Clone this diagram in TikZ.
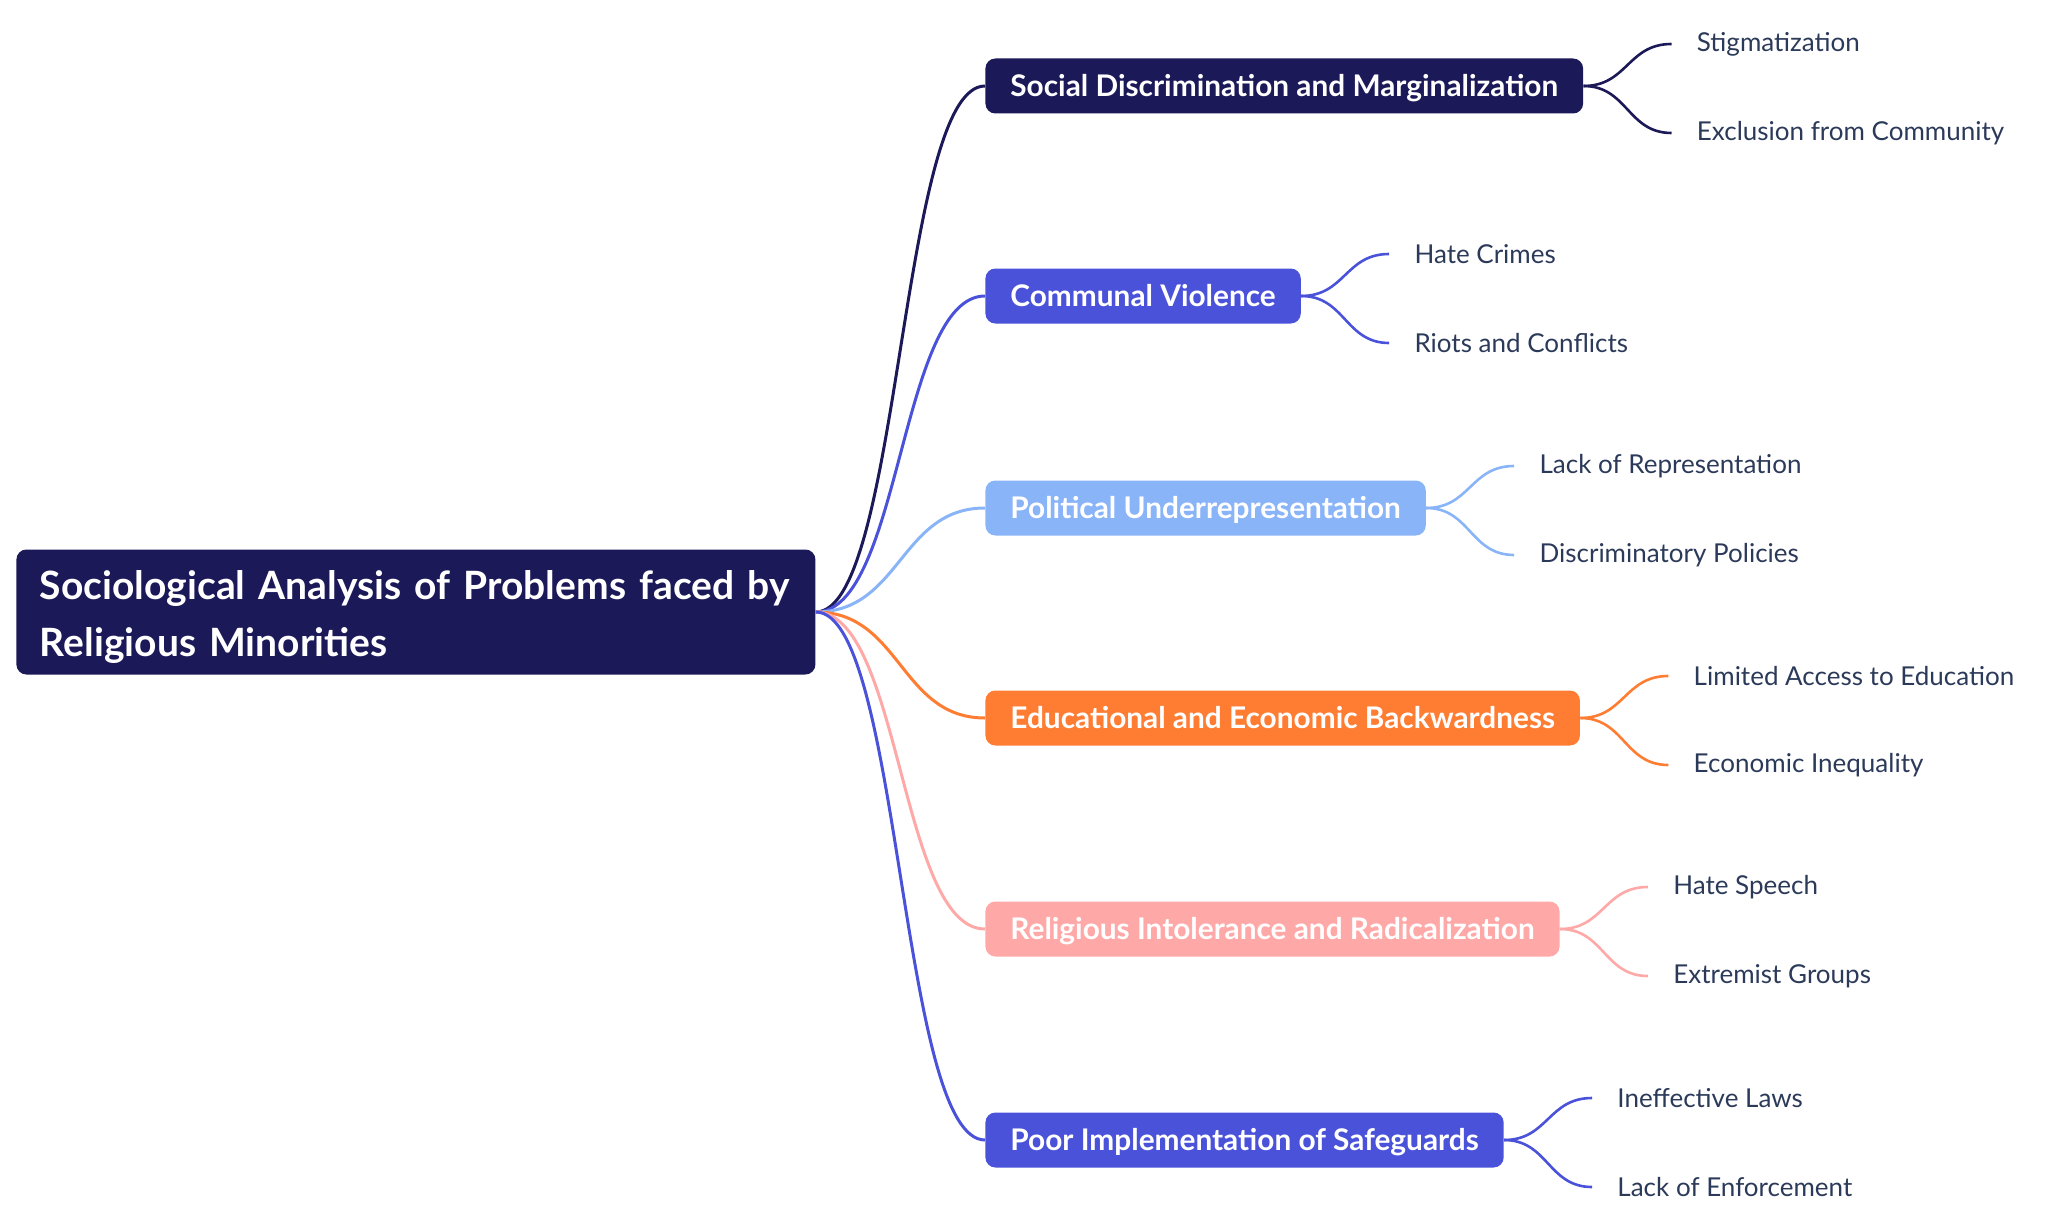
\documentclass[tikz,border=0pt]{standalone}
\usepackage{fontspec}
\setmainfont{Lato}
\usetikzlibrary{calc}
\definecolor{navy}{RGB}{27,25,88}
\definecolor{indigo}{RGB}{74,82,217}
\definecolor{sky}{RGB}{138,180,248}
\definecolor{orng}{RGB}{255,125,51}
\definecolor{pinky}{RGB}{255,168,168}
\definecolor{leaftext}{RGB}{44,58,90}
\tikzset{
  rootbox/.style={fill=navy, text=white, rounded corners=5pt, inner xsep=11.75pt, inner ysep=0pt,
    minimum height=62.5pt, text width=376pt, align=left, anchor=west,
    font=\bfseries\fontsize{19.5}{28.5}\selectfont},
  topic/.style={fill=#1, text=white, rounded corners=5pt, inner xsep=12.5pt, inner ysep=0pt,
    minimum height=27.5pt, text height=12pt, text depth=1.6pt, anchor=west,
    font=\bfseries\fontsize{14.9}{17}\selectfont},
  leaf/.style={text=leaftext, inner xsep=12.5pt, inner ysep=2pt, anchor=west,
    font=\fontsize{13}{16}\selectfont},
  rootlink/.style={draw=#1, line width=1.5pt},
  leaflink/.style={draw=#1, line width=1.3pt},
}
\begin{document}
\begin{tikzpicture}[x=0.5pt,y=-0.5pt]
\useasboundingbox (0,0) rectangle (2048,1214);
\node[rootbox] (root) at (16,612) {\rule{0pt}{20pt}Sociological Analysis of Problems faced by\\Religious Minorities};

\node[topic=navy]   (t1) at (985,86)   {Social Discrimination and Marginalization};
\node[topic=indigo] (t2) at (985,296)  {Communal Violence};
\node[topic=sky]    (t3) at (985,508)  {Political Underrepresentation};
\node[topic=orng]   (t4) at (985,718)  {Educational and Economic Backwardness};
\node[topic=pinky]  (t5) at (985,929)  {Religious Intolerance and Radicalization};
\node[topic=indigo] (t6) at (985,1140) {Poor Implementation of Safeguards};

\foreach \t/\c in {t1/navy,t2/indigo,t3/sky,t4/orng,t5/pinky,t6/indigo}{
  \draw[rootlink=\c] (root.east) .. controls +(85,0) and +(-85,0) .. (\t.west);
}

\node[leaf] (l1a) at ($(t1.east)+(88,-42)$) {Stigmatization};
\node[leaf] (l1b) at ($(t1.east)+(88,47)$)  {Exclusion from Community};
\node[leaf] (l2a) at ($(t2.east)+(88,-42)$) {Hate Crimes};
\node[leaf] (l2b) at ($(t2.east)+(88,47)$)  {Riots and Conflicts};
\node[leaf] (l3a) at ($(t3.east)+(88,-42)$) {Lack of Representation};
\node[leaf] (l3b) at ($(t3.east)+(88,47)$)  {Discriminatory Policies};
\node[leaf] (l4a) at ($(t4.east)+(88,-42)$) {Limited Access to Education};
\node[leaf] (l4b) at ($(t4.east)+(88,47)$)  {Economic Inequality};
\node[leaf] (l5a) at ($(t5.east)+(88,-42)$) {Hate Speech};
\node[leaf] (l5b) at ($(t5.east)+(88,47)$)  {Extremist Groups};
\node[leaf] (l6a) at ($(t6.east)+(88,-42)$) {Ineffective Laws};
\node[leaf] (l6b) at ($(t6.east)+(88,47)$)  {Lack of Enforcement};

\foreach \t/\c in {1/navy,2/indigo,3/sky,4/orng,5/pinky,6/indigo}{
  \draw[leaflink=\c] (t\t.east) .. controls +(44,0) and +(-44,0) .. (l\t a.west);
  \draw[leaflink=\c] (t\t.east) .. controls +(44,0) and +(-44,0) .. (l\t b.west);
}
\end{tikzpicture}
\end{document}
